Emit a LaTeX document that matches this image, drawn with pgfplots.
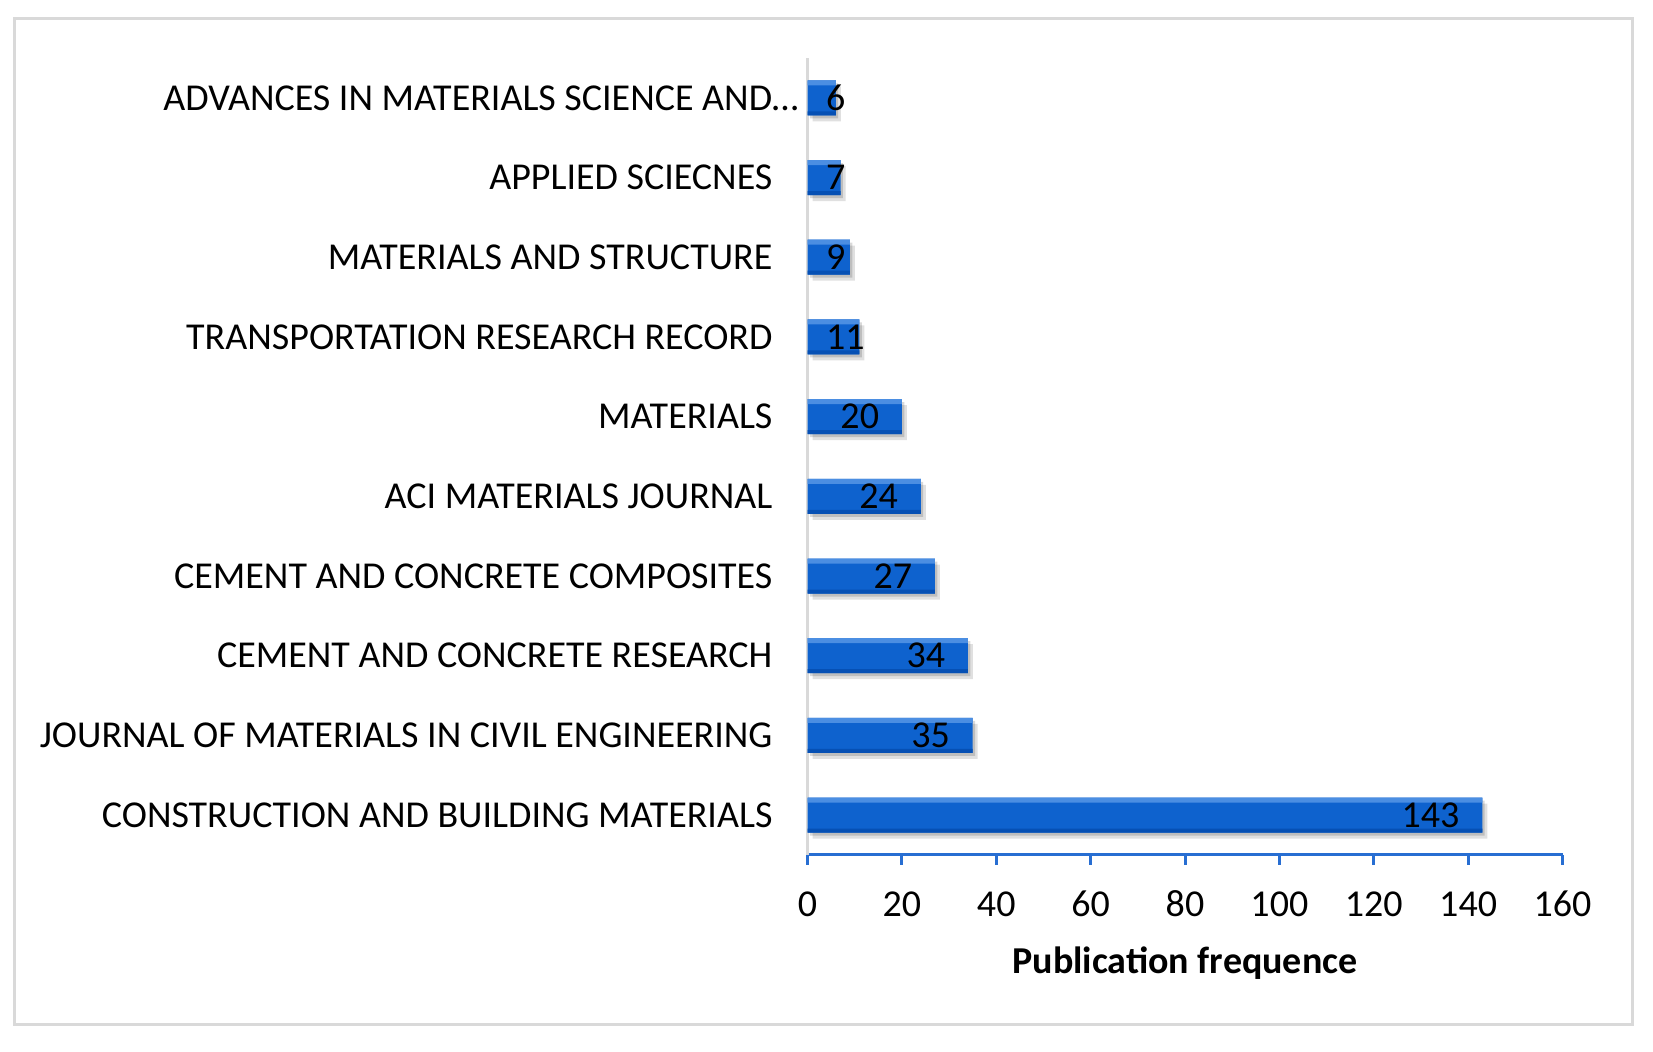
\documentclass[border=0pt]{standalone}
\usepackage{pgfplots}
\pgfplotsset{compat=1.18}
\usepackage{fontspec}
\setmainfont{Carlito}
\definecolor{barblue}{RGB}{14,98,206}
\definecolor{barbot}{RGB}{6,80,180}
\definecolor{bartop}{RGB}{75,142,226}
\definecolor{axblue}{RGB}{40,110,210}
\begin{document}
\begin{tikzpicture}
\fill[white] (0,0) rectangle (826.5pt,526pt);
\draw[black!15, line width=1.5pt] (7.4pt,13.65pt) rectangle (816pt,516.5pt);
\begin{axis}[
  at={(403.75pt,98.5pt)}, anchor=south west,
  scale only axis, width=377.5pt, height=398.5pt,
  xmin=0, xmax=160, ymin=-0.5, ymax=9.5,
  axis x line*=bottom, axis y line*=left,
  x axis line style={axblue, line width=1.5pt, -},
  y axis line style={black!15, line width=1.2pt, -},
  xtick={0,20,...,160},
  x tick style={axblue, line width=1.5pt},
  tick align=outside, major tick length=5pt,
  ytick={0,...,9},
  y tick style={draw=none},
  yticklabels={CONSTRUCTION AND BUILDING MATERIALS, JOURNAL OF MATERIALS IN CIVIL ENGINEERING, CEMENT AND CONCRETE RESEARCH, CEMENT AND CONCRETE COMPOSITES, ACI MATERIALS JOURNAL, MATERIALS, TRANSPORTATION RESEARCH RECORD, MATERIALS AND STRUCTURE, APPLIED SCIECNES, {ADVANCES IN MATERIALS SCIENCE AND…\hspace*{-13pt}}},
  ticklabel style={font=\fontsize{19}{22}\selectfont, text=black},
  yticklabel style={xshift=-9pt},
  xticklabel style={yshift=-9.5pt, text height=12.5pt, text depth=0pt},
  /pgf/number format/assume math mode=true,
  xlabel={\textbf{Publication frequence}},
  xlabel style={font=\fontsize{19}{22}\selectfont, at={(axis description cs:0.5,0)}, anchor=center, yshift=-54pt},
  clip=false,
]
\addplot[xbar, bar width=17.5pt, bar shift=0pt, draw=none, fill=barblue,
  preaction={fill=black, opacity=0.12, transform canvas={xshift=2.5pt, yshift=-3pt}},
  preaction={fill=black, opacity=0.15, transform canvas={xshift=1.2pt, yshift=-1.5pt}}]
  coordinates {(143,0) (35,1) (34,2) (27,3) (24,4) (20,5) (11,6) (9,7) (7,8) (6,9)};
\addplot[xbar, bar width=2.5pt, bar shift=7.5pt, draw=none, fill=bartop]
  coordinates {(143,0) (35,1) (34,2) (27,3) (24,4) (20,5) (11,6) (9,7) (7,8) (6,9)};
\addplot[xbar, bar width=2pt, bar shift=-7.75pt, draw=none, fill=barbot]
  coordinates {(143,0) (35,1) (34,2) (27,3) (24,4) (20,5) (11,6) (9,7) (7,8) (6,9)};
\addplot[draw=none, mark=none, nodes near coords, point meta=x,
  every node near coord/.append style={anchor=east, xshift=-7.9pt, font=\fontsize{19}{22}\selectfont, text=black}]
  coordinates {(143,0) (35,1) (34,2) (27,3) (24,4) (20,5)};
\addplot[draw=none, mark=none, nodes near coords, point meta=explicit,
  every node near coord/.append style={anchor=west, xshift=5.8pt, font=\fontsize{19}{22}\selectfont, text=black}]
  coordinates {(0,6) [11] (0,7) [9] (0,8) [7] (0,9) [6]};
\end{axis}
\end{tikzpicture}
\end{document}
